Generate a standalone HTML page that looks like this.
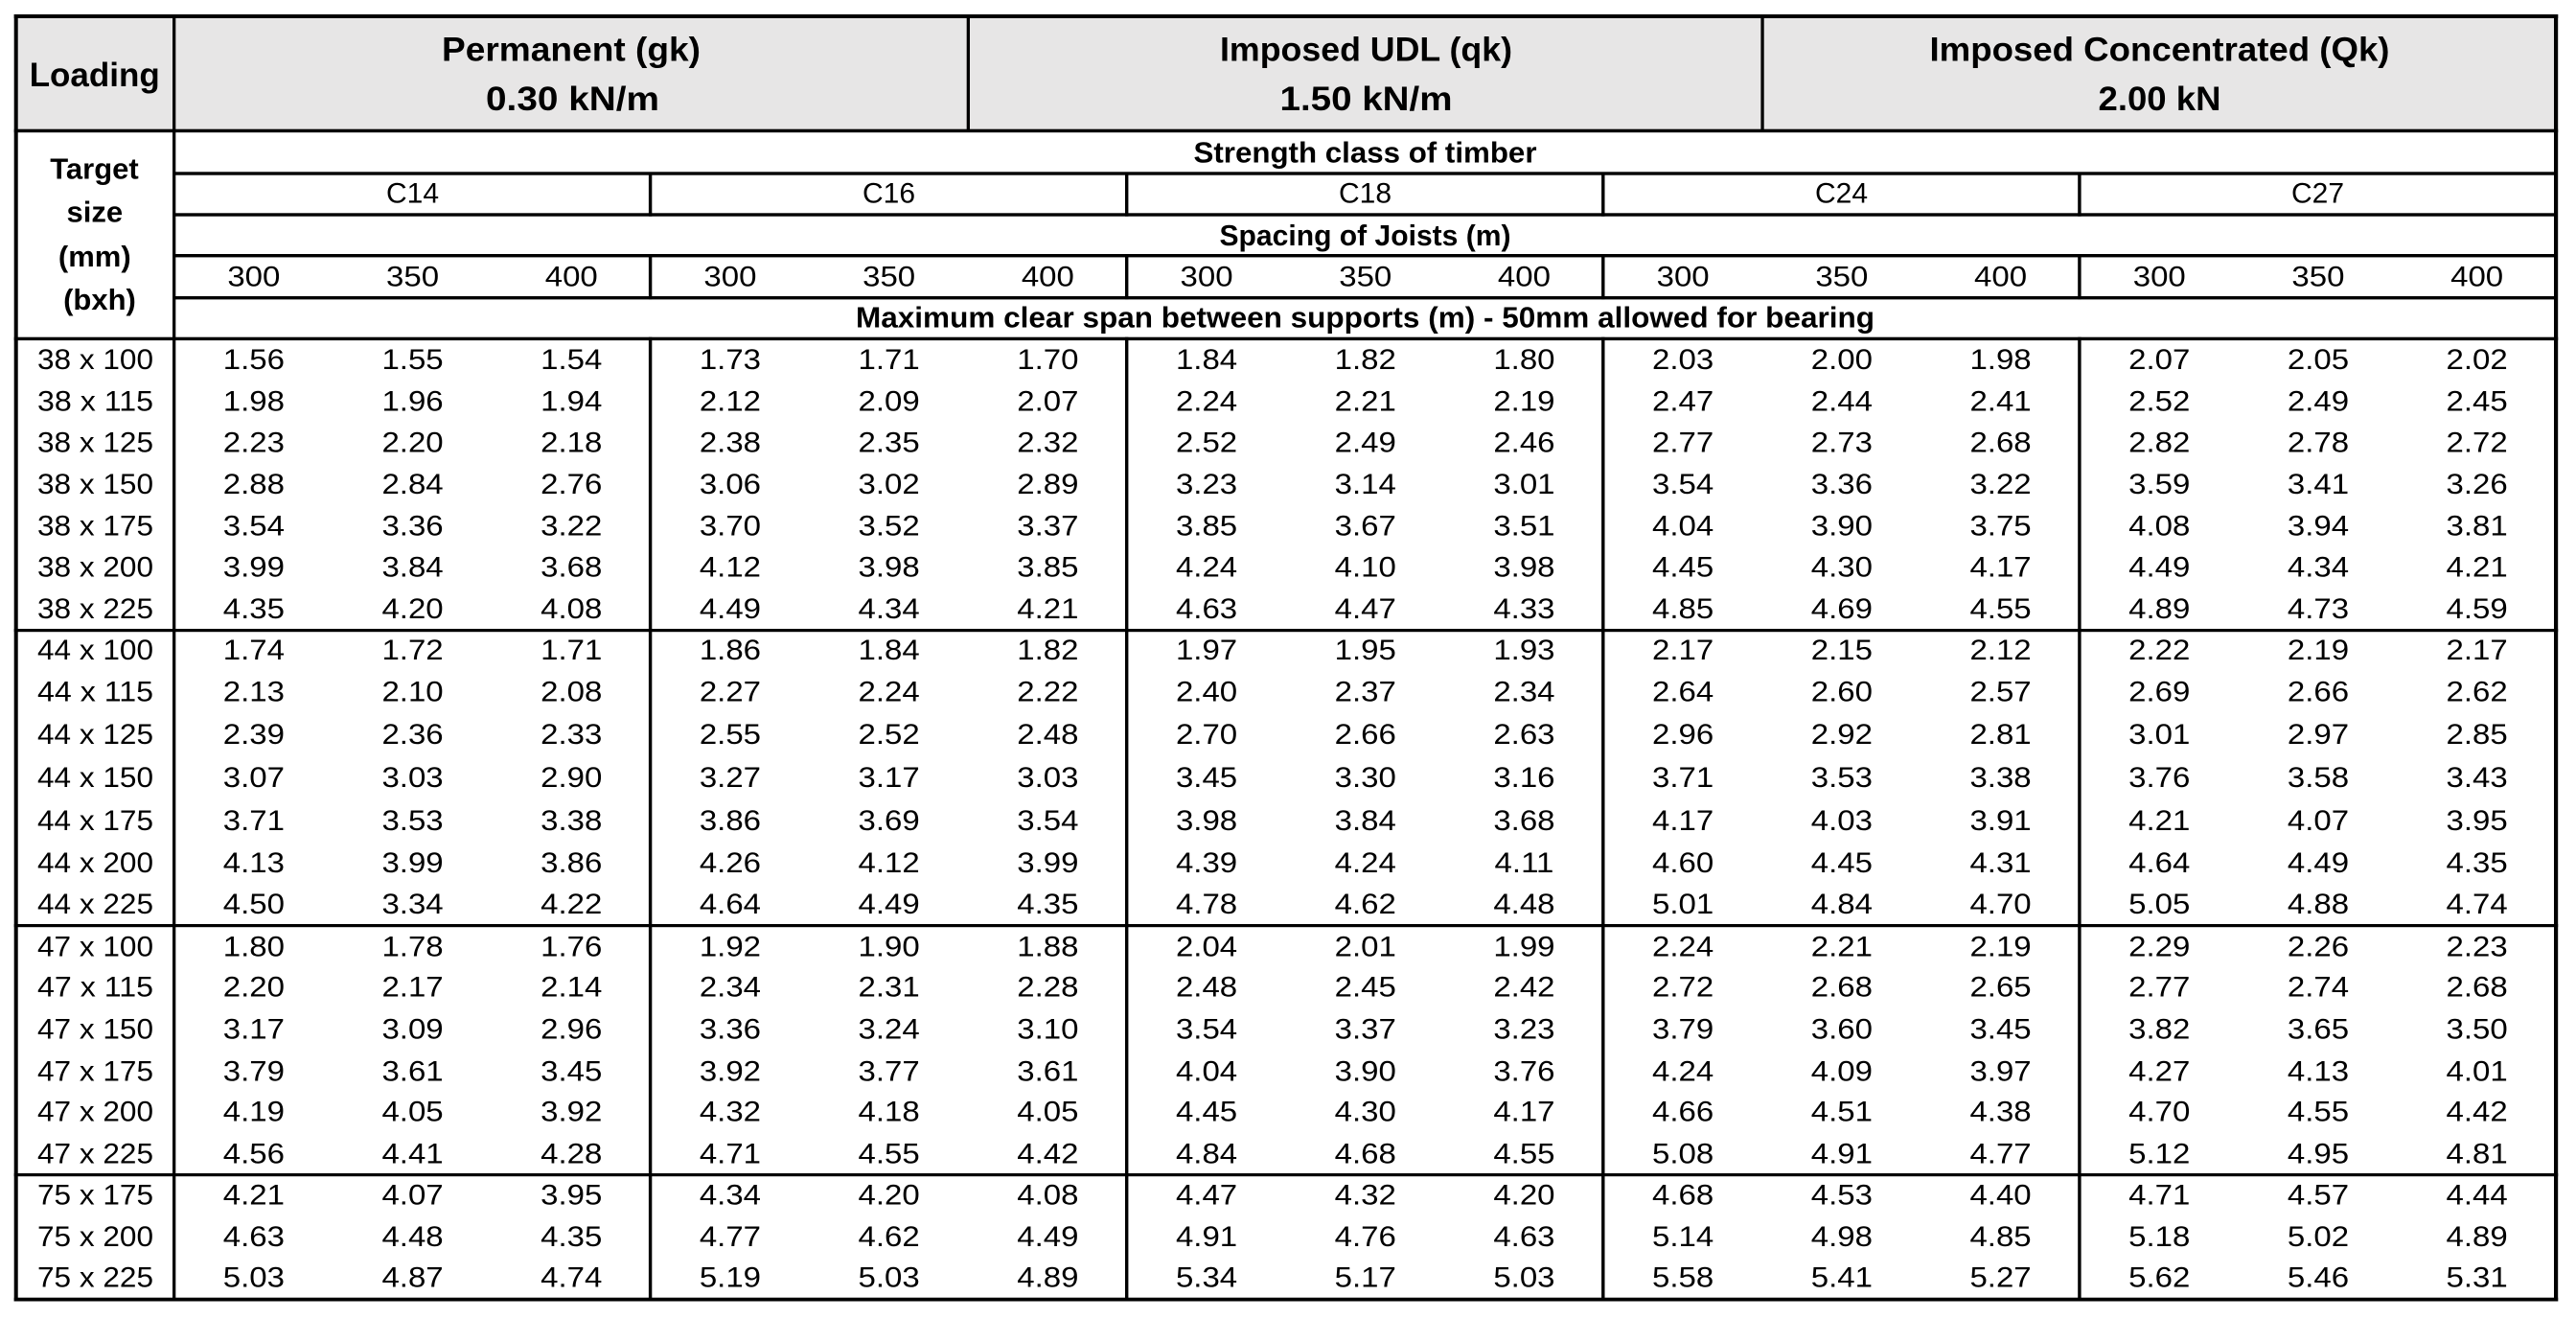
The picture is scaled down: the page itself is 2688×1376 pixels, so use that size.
<!DOCTYPE html>
<html>
<head>
<meta charset="utf-8">
<style>
html,body{margin:0;padding:0;background:#fff;}
svg{display:block;}
text{fill:#000;}
</style>
</head>
<body>
<svg width="2688" height="1376" viewBox="0 0 2688 1376" xmlns="http://www.w3.org/2000/svg" font-family="'Liberation Sans', Arial, sans-serif" text-anchor="middle">
<rect x="0" y="0" width="2688" height="1376" fill="#ffffff"/>
<rect x="16" y="17" width="2651" height="119" fill="#e7e6e6"/>

<!-- horizontal lines -->
<g fill="#000">
<rect x="14.7" y="15" width="2654.5" height="4"/>
<rect x="14.7" y="134.7" width="2654.5" height="3.5"/>
<rect x="180" y="179.3" width="2489" height="3.4"/>
<rect x="180" y="222.3" width="2489" height="3.4"/>
<rect x="180" y="265" width="2489" height="3.4"/>
<rect x="180" y="309" width="2489" height="3.4"/>
<rect x="14.7" y="351.7" width="2654.5" height="3.4"/>
<rect x="14.7" y="656" width="2654.5" height="3.2"/>
<rect x="14.7" y="964" width="2654.5" height="3.2"/>
<rect x="14.7" y="1224" width="2654.5" height="3.2"/>
<rect x="14.7" y="1353.7" width="2654.5" height="3.8"/>
<!-- vertical lines -->
<rect x="14.7" y="15" width="4" height="1342.5"/>
<rect x="180" y="15" width="3.3" height="1342.5"/>
<rect x="1008.7" y="15" width="3.3" height="122"/>
<rect x="1837.4" y="15" width="3.3" height="122"/>
<rect x="2665" y="15" width="4.2" height="1342.5"/>
<!-- class separators -->
<rect x="676.9" y="180" width="3.4" height="45.7"/>
<rect x="676.9" y="265" width="3.4" height="47.3"/>
<rect x="676.9" y="351.7" width="3.4" height="1005"/>
<rect x="1174" y="180" width="3.4" height="45.7"/>
<rect x="1174" y="265" width="3.4" height="47.3"/>
<rect x="1174" y="351.7" width="3.4" height="1005"/>
<rect x="1671.1" y="180" width="3.4" height="45.7"/>
<rect x="1671.1" y="265" width="3.4" height="47.3"/>
<rect x="1671.1" y="351.7" width="3.4" height="1005"/>
<rect x="2168.2" y="180" width="3.4" height="45.7"/>
<rect x="2168.2" y="265" width="3.4" height="47.3"/>
<rect x="2168.2" y="351.7" width="3.4" height="1005"/>
</g>

<!-- header texts -->
<g font-weight="bold" font-size="35">
<text x="98.7" y="90" textLength="136" lengthAdjust="spacingAndGlyphs">Loading</text>
<text x="596" y="63.3" textLength="270" lengthAdjust="spacingAndGlyphs">Permanent (gk)</text>
<text x="597.5" y="115" textLength="181" lengthAdjust="spacingAndGlyphs">0.30 kN/m</text>
<text x="1425.5" y="63.3" textLength="305" lengthAdjust="spacingAndGlyphs">Imposed UDL (qk)</text>
<text x="1425.5" y="115" textLength="180" lengthAdjust="spacingAndGlyphs">1.50 kN/m</text>
<text x="2253.5" y="63.3" textLength="480" lengthAdjust="spacingAndGlyphs">Imposed Concentrated (Qk)</text>
<text x="2253.5" y="115" textLength="128" lengthAdjust="spacingAndGlyphs">2.00 kN</text>
</g>
<g font-weight="bold" font-size="31">
<text x="98.5" y="186.5">Target</text>
<text x="98.8" y="231.7">size</text>
<text x="98.8" y="278">(mm)</text>
<text x="104" y="323">(bxh)</text>
<text x="1424.5" y="169.3" textLength="358" lengthAdjust="spacingAndGlyphs">Strength class of timber</text>
<text x="1424.5" y="256" textLength="304" lengthAdjust="spacingAndGlyphs">Spacing of Joists (m)</text>
<text x="1424.5" y="341.7" textLength="1063" lengthAdjust="spacingAndGlyphs">Maximum clear span between supports (m) - 50mm allowed for bearing</text>
</g>
<g font-size="30">
<text x="430.5" y="211.7">C14</text>
<text x="927.5" y="211.7">C16</text>
<text x="1424.5" y="211.7">C18</text>
<text x="1921.5" y="211.7">C24</text>
<text x="2418.5" y="211.7">C27</text>
</g>
<g font-size="30" transform="translate(0,298.3) scale(1.1,1)">
<text x="240.77">300</text><text x="391.41">350</text><text x="542.05">400</text>
<text x="692.68">300</text><text x="843.32">350</text><text x="993.95">400</text>
<text x="1144.59">300</text><text x="1295.23">350</text><text x="1445.86">400</text>
<text x="1596.50">300</text><text x="1747.14">350</text><text x="1897.77">400</text>
<text x="2048.41">300</text><text x="2199.05">350</text><text x="2349.68">400</text>
</g>

<!-- row labels -->
<g font-size="30">
<text x="99.5" y="385" textLength="121" lengthAdjust="spacingAndGlyphs">38 x 100</text>
<text x="99.5" y="428.3" textLength="121" lengthAdjust="spacingAndGlyphs">38 x 115</text>
<text x="99.5" y="471.7" textLength="121" lengthAdjust="spacingAndGlyphs">38 x 125</text>
<text x="99.5" y="515" textLength="121" lengthAdjust="spacingAndGlyphs">38 x 150</text>
<text x="99.5" y="558.3" textLength="121" lengthAdjust="spacingAndGlyphs">38 x 175</text>
<text x="99.5" y="601.7" textLength="121" lengthAdjust="spacingAndGlyphs">38 x 200</text>
<text x="99.5" y="645" textLength="121" lengthAdjust="spacingAndGlyphs">38 x 225</text>
<text x="99.5" y="688" textLength="121" lengthAdjust="spacingAndGlyphs">44 x 100</text>
<text x="99.5" y="731.5" textLength="121" lengthAdjust="spacingAndGlyphs">44 x 115</text>
<text x="99.5" y="776" textLength="121" lengthAdjust="spacingAndGlyphs">44 x 125</text>
<text x="99.5" y="821" textLength="121" lengthAdjust="spacingAndGlyphs">44 x 150</text>
<text x="99.5" y="866" textLength="121" lengthAdjust="spacingAndGlyphs">44 x 175</text>
<text x="99.5" y="910" textLength="121" lengthAdjust="spacingAndGlyphs">44 x 200</text>
<text x="99.5" y="953" textLength="121" lengthAdjust="spacingAndGlyphs">44 x 225</text>
<text x="99.5" y="997.7" textLength="121" lengthAdjust="spacingAndGlyphs">47 x 100</text>
<text x="99.5" y="1039.3" textLength="121" lengthAdjust="spacingAndGlyphs">47 x 115</text>
<text x="99.5" y="1083.3" textLength="121" lengthAdjust="spacingAndGlyphs">47 x 150</text>
<text x="99.5" y="1127.7" textLength="121" lengthAdjust="spacingAndGlyphs">47 x 175</text>
<text x="99.5" y="1169.3" textLength="121" lengthAdjust="spacingAndGlyphs">47 x 200</text>
<text x="99.5" y="1213.3" textLength="121" lengthAdjust="spacingAndGlyphs">47 x 225</text>
<text x="99.5" y="1256.7" textLength="121" lengthAdjust="spacingAndGlyphs">75 x 175</text>
<text x="99.5" y="1300" textLength="121" lengthAdjust="spacingAndGlyphs">75 x 200</text>
<text x="99.5" y="1342.7" textLength="121" lengthAdjust="spacingAndGlyphs">75 x 225</text>
</g>

<!-- data -->
<g font-size="30">
<g transform="translate(0,385) scale(1.1,1)">
<text x="240.77">1.56</text><text x="391.41">1.55</text><text x="542.05">1.54</text><text x="692.68">1.73</text><text x="843.32">1.71</text><text x="993.95">1.70</text><text x="1144.59">1.84</text><text x="1295.23">1.82</text><text x="1445.86">1.80</text><text x="1596.50">2.03</text><text x="1747.14">2.00</text><text x="1897.77">1.98</text><text x="2048.41">2.07</text><text x="2199.05">2.05</text><text x="2349.68">2.02</text>
</g>
<g transform="translate(0,428.3) scale(1.1,1)">
<text x="240.77">1.98</text><text x="391.41">1.96</text><text x="542.05">1.94</text><text x="692.68">2.12</text><text x="843.32">2.09</text><text x="993.95">2.07</text><text x="1144.59">2.24</text><text x="1295.23">2.21</text><text x="1445.86">2.19</text><text x="1596.50">2.47</text><text x="1747.14">2.44</text><text x="1897.77">2.41</text><text x="2048.41">2.52</text><text x="2199.05">2.49</text><text x="2349.68">2.45</text>
</g>
<g transform="translate(0,471.7) scale(1.1,1)">
<text x="240.77">2.23</text><text x="391.41">2.20</text><text x="542.05">2.18</text><text x="692.68">2.38</text><text x="843.32">2.35</text><text x="993.95">2.32</text><text x="1144.59">2.52</text><text x="1295.23">2.49</text><text x="1445.86">2.46</text><text x="1596.50">2.77</text><text x="1747.14">2.73</text><text x="1897.77">2.68</text><text x="2048.41">2.82</text><text x="2199.05">2.78</text><text x="2349.68">2.72</text>
</g>
<g transform="translate(0,515) scale(1.1,1)">
<text x="240.77">2.88</text><text x="391.41">2.84</text><text x="542.05">2.76</text><text x="692.68">3.06</text><text x="843.32">3.02</text><text x="993.95">2.89</text><text x="1144.59">3.23</text><text x="1295.23">3.14</text><text x="1445.86">3.01</text><text x="1596.50">3.54</text><text x="1747.14">3.36</text><text x="1897.77">3.22</text><text x="2048.41">3.59</text><text x="2199.05">3.41</text><text x="2349.68">3.26</text>
</g>
<g transform="translate(0,558.3) scale(1.1,1)">
<text x="240.77">3.54</text><text x="391.41">3.36</text><text x="542.05">3.22</text><text x="692.68">3.70</text><text x="843.32">3.52</text><text x="993.95">3.37</text><text x="1144.59">3.85</text><text x="1295.23">3.67</text><text x="1445.86">3.51</text><text x="1596.50">4.04</text><text x="1747.14">3.90</text><text x="1897.77">3.75</text><text x="2048.41">4.08</text><text x="2199.05">3.94</text><text x="2349.68">3.81</text>
</g>
<g transform="translate(0,601.7) scale(1.1,1)">
<text x="240.77">3.99</text><text x="391.41">3.84</text><text x="542.05">3.68</text><text x="692.68">4.12</text><text x="843.32">3.98</text><text x="993.95">3.85</text><text x="1144.59">4.24</text><text x="1295.23">4.10</text><text x="1445.86">3.98</text><text x="1596.50">4.45</text><text x="1747.14">4.30</text><text x="1897.77">4.17</text><text x="2048.41">4.49</text><text x="2199.05">4.34</text><text x="2349.68">4.21</text>
</g>
<g transform="translate(0,645) scale(1.1,1)">
<text x="240.77">4.35</text><text x="391.41">4.20</text><text x="542.05">4.08</text><text x="692.68">4.49</text><text x="843.32">4.34</text><text x="993.95">4.21</text><text x="1144.59">4.63</text><text x="1295.23">4.47</text><text x="1445.86">4.33</text><text x="1596.50">4.85</text><text x="1747.14">4.69</text><text x="1897.77">4.55</text><text x="2048.41">4.89</text><text x="2199.05">4.73</text><text x="2349.68">4.59</text>
</g>
<g transform="translate(0,688) scale(1.1,1)">
<text x="240.77">1.74</text><text x="391.41">1.72</text><text x="542.05">1.71</text><text x="692.68">1.86</text><text x="843.32">1.84</text><text x="993.95">1.82</text><text x="1144.59">1.97</text><text x="1295.23">1.95</text><text x="1445.86">1.93</text><text x="1596.50">2.17</text><text x="1747.14">2.15</text><text x="1897.77">2.12</text><text x="2048.41">2.22</text><text x="2199.05">2.19</text><text x="2349.68">2.17</text>
</g>
<g transform="translate(0,731.5) scale(1.1,1)">
<text x="240.77">2.13</text><text x="391.41">2.10</text><text x="542.05">2.08</text><text x="692.68">2.27</text><text x="843.32">2.24</text><text x="993.95">2.22</text><text x="1144.59">2.40</text><text x="1295.23">2.37</text><text x="1445.86">2.34</text><text x="1596.50">2.64</text><text x="1747.14">2.60</text><text x="1897.77">2.57</text><text x="2048.41">2.69</text><text x="2199.05">2.66</text><text x="2349.68">2.62</text>
</g>
<g transform="translate(0,776) scale(1.1,1)">
<text x="240.77">2.39</text><text x="391.41">2.36</text><text x="542.05">2.33</text><text x="692.68">2.55</text><text x="843.32">2.52</text><text x="993.95">2.48</text><text x="1144.59">2.70</text><text x="1295.23">2.66</text><text x="1445.86">2.63</text><text x="1596.50">2.96</text><text x="1747.14">2.92</text><text x="1897.77">2.81</text><text x="2048.41">3.01</text><text x="2199.05">2.97</text><text x="2349.68">2.85</text>
</g>
<g transform="translate(0,821) scale(1.1,1)">
<text x="240.77">3.07</text><text x="391.41">3.03</text><text x="542.05">2.90</text><text x="692.68">3.27</text><text x="843.32">3.17</text><text x="993.95">3.03</text><text x="1144.59">3.45</text><text x="1295.23">3.30</text><text x="1445.86">3.16</text><text x="1596.50">3.71</text><text x="1747.14">3.53</text><text x="1897.77">3.38</text><text x="2048.41">3.76</text><text x="2199.05">3.58</text><text x="2349.68">3.43</text>
</g>
<g transform="translate(0,866) scale(1.1,1)">
<text x="240.77">3.71</text><text x="391.41">3.53</text><text x="542.05">3.38</text><text x="692.68">3.86</text><text x="843.32">3.69</text><text x="993.95">3.54</text><text x="1144.59">3.98</text><text x="1295.23">3.84</text><text x="1445.86">3.68</text><text x="1596.50">4.17</text><text x="1747.14">4.03</text><text x="1897.77">3.91</text><text x="2048.41">4.21</text><text x="2199.05">4.07</text><text x="2349.68">3.95</text>
</g>
<g transform="translate(0,910) scale(1.1,1)">
<text x="240.77">4.13</text><text x="391.41">3.99</text><text x="542.05">3.86</text><text x="692.68">4.26</text><text x="843.32">4.12</text><text x="993.95">3.99</text><text x="1144.59">4.39</text><text x="1295.23">4.24</text><text x="1445.86">4.11</text><text x="1596.50">4.60</text><text x="1747.14">4.45</text><text x="1897.77">4.31</text><text x="2048.41">4.64</text><text x="2199.05">4.49</text><text x="2349.68">4.35</text>
</g>
<g transform="translate(0,953) scale(1.1,1)">
<text x="240.77">4.50</text><text x="391.41">3.34</text><text x="542.05">4.22</text><text x="692.68">4.64</text><text x="843.32">4.49</text><text x="993.95">4.35</text><text x="1144.59">4.78</text><text x="1295.23">4.62</text><text x="1445.86">4.48</text><text x="1596.50">5.01</text><text x="1747.14">4.84</text><text x="1897.77">4.70</text><text x="2048.41">5.05</text><text x="2199.05">4.88</text><text x="2349.68">4.74</text>
</g>
<g transform="translate(0,997.7) scale(1.1,1)">
<text x="240.77">1.80</text><text x="391.41">1.78</text><text x="542.05">1.76</text><text x="692.68">1.92</text><text x="843.32">1.90</text><text x="993.95">1.88</text><text x="1144.59">2.04</text><text x="1295.23">2.01</text><text x="1445.86">1.99</text><text x="1596.50">2.24</text><text x="1747.14">2.21</text><text x="1897.77">2.19</text><text x="2048.41">2.29</text><text x="2199.05">2.26</text><text x="2349.68">2.23</text>
</g>
<g transform="translate(0,1039.3) scale(1.1,1)">
<text x="240.77">2.20</text><text x="391.41">2.17</text><text x="542.05">2.14</text><text x="692.68">2.34</text><text x="843.32">2.31</text><text x="993.95">2.28</text><text x="1144.59">2.48</text><text x="1295.23">2.45</text><text x="1445.86">2.42</text><text x="1596.50">2.72</text><text x="1747.14">2.68</text><text x="1897.77">2.65</text><text x="2048.41">2.77</text><text x="2199.05">2.74</text><text x="2349.68">2.68</text>
</g>
<g transform="translate(0,1083.3) scale(1.1,1)">
<text x="240.77">3.17</text><text x="391.41">3.09</text><text x="542.05">2.96</text><text x="692.68">3.36</text><text x="843.32">3.24</text><text x="993.95">3.10</text><text x="1144.59">3.54</text><text x="1295.23">3.37</text><text x="1445.86">3.23</text><text x="1596.50">3.79</text><text x="1747.14">3.60</text><text x="1897.77">3.45</text><text x="2048.41">3.82</text><text x="2199.05">3.65</text><text x="2349.68">3.50</text>
</g>
<g transform="translate(0,1127.7) scale(1.1,1)">
<text x="240.77">3.79</text><text x="391.41">3.61</text><text x="542.05">3.45</text><text x="692.68">3.92</text><text x="843.32">3.77</text><text x="993.95">3.61</text><text x="1144.59">4.04</text><text x="1295.23">3.90</text><text x="1445.86">3.76</text><text x="1596.50">4.24</text><text x="1747.14">4.09</text><text x="1897.77">3.97</text><text x="2048.41">4.27</text><text x="2199.05">4.13</text><text x="2349.68">4.01</text>
</g>
<g transform="translate(0,1169.3) scale(1.1,1)">
<text x="240.77">4.19</text><text x="391.41">4.05</text><text x="542.05">3.92</text><text x="692.68">4.32</text><text x="843.32">4.18</text><text x="993.95">4.05</text><text x="1144.59">4.45</text><text x="1295.23">4.30</text><text x="1445.86">4.17</text><text x="1596.50">4.66</text><text x="1747.14">4.51</text><text x="1897.77">4.38</text><text x="2048.41">4.70</text><text x="2199.05">4.55</text><text x="2349.68">4.42</text>
</g>
<g transform="translate(0,1213.3) scale(1.1,1)">
<text x="240.77">4.56</text><text x="391.41">4.41</text><text x="542.05">4.28</text><text x="692.68">4.71</text><text x="843.32">4.55</text><text x="993.95">4.42</text><text x="1144.59">4.84</text><text x="1295.23">4.68</text><text x="1445.86">4.55</text><text x="1596.50">5.08</text><text x="1747.14">4.91</text><text x="1897.77">4.77</text><text x="2048.41">5.12</text><text x="2199.05">4.95</text><text x="2349.68">4.81</text>
</g>
<g transform="translate(0,1256.7) scale(1.1,1)">
<text x="240.77">4.21</text><text x="391.41">4.07</text><text x="542.05">3.95</text><text x="692.68">4.34</text><text x="843.32">4.20</text><text x="993.95">4.08</text><text x="1144.59">4.47</text><text x="1295.23">4.32</text><text x="1445.86">4.20</text><text x="1596.50">4.68</text><text x="1747.14">4.53</text><text x="1897.77">4.40</text><text x="2048.41">4.71</text><text x="2199.05">4.57</text><text x="2349.68">4.44</text>
</g>
<g transform="translate(0,1300) scale(1.1,1)">
<text x="240.77">4.63</text><text x="391.41">4.48</text><text x="542.05">4.35</text><text x="692.68">4.77</text><text x="843.32">4.62</text><text x="993.95">4.49</text><text x="1144.59">4.91</text><text x="1295.23">4.76</text><text x="1445.86">4.63</text><text x="1596.50">5.14</text><text x="1747.14">4.98</text><text x="1897.77">4.85</text><text x="2048.41">5.18</text><text x="2199.05">5.02</text><text x="2349.68">4.89</text>
</g>
<g transform="translate(0,1342.7) scale(1.1,1)">
<text x="240.77">5.03</text><text x="391.41">4.87</text><text x="542.05">4.74</text><text x="692.68">5.19</text><text x="843.32">5.03</text><text x="993.95">4.89</text><text x="1144.59">5.34</text><text x="1295.23">5.17</text><text x="1445.86">5.03</text><text x="1596.50">5.58</text><text x="1747.14">5.41</text><text x="1897.77">5.27</text><text x="2048.41">5.62</text><text x="2199.05">5.46</text><text x="2349.68">5.31</text>
</g>
</g>
</svg>
</body>
</html>
